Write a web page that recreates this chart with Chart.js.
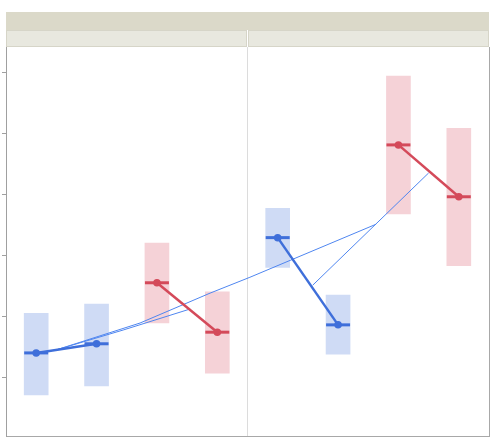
<!DOCTYPE html>
<html>
<head>
<meta charset="utf-8">
<script src="https://cdn.jsdelivr.net/npm/chart.js@4"></script>
<style>
  html, body { margin: 0; padding: 0; background: #fff; }
  #wrap { position: relative; width: 496px; height: 437px; }
  #chart { position: absolute; left: 0; top: 0; }
  .band { position: absolute; box-sizing: border-box; }
</style>
</head>
<body>
<div id="wrap">
  <canvas id="chart" width="496" height="437"></canvas>
  <div class="band" style="left:6px;top:12px;width:483px;height:18px;background:#dbd9c9;"></div>
  <div class="band" style="left:6px;top:30px;width:241px;height:17px;background:#e8e8df;border:1px solid #d6d5c8;"></div>
  <div class="band" style="left:248px;top:30px;width:241px;height:17px;background:#e8e8df;border:1px solid #d6d5c8;"></div>
</div>
<script>
// group positions (two panels, four groups each)
const groupX = [0.5, 1.5, 2.5, 3.5, 4.5, 5.5, 6.5, 7.5];
const groupColor = ['blue', 'blue', 'red', 'red', 'blue', 'blue', 'red', 'red'];
const means = [14.0, 15.5, 25.5, 17.4, 32.9, 18.6, 48.1, 39.6];
const lows  = [7.1, 8.6, 18.9, 10.7, 28.0, 13.8, 36.8, 28.3];
const highs = [20.5, 22.0, 32.0, 24.0, 37.7, 23.5, 59.4, 50.8];
const yTicks = [10, 20, 30, 40, 50, 60];

// thin trend lines
const trendA = [[0.85, 14.55], [2.22, 18.9], [3.38, 23.8], [4.04, 26.4], [6.13, 35.1]];
const trendB = [[0.85, 14.55], [1.94, 17.75], [3.05, 21.2]];
const trendC = [[5.08, 25.1], [7.0, 43.5]];

const BLUE = '#3f6fda', RED = '#d44a5a';
const BLUE_BOX = '#cfdbf5', RED_BOX = '#f5d2d7';
const col = c => c === 'blue' ? BLUE : RED;

const boxData = groupX.map((x, i) => ({ x: x, y: [lows[i], highs[i]] }));
const meanPts = groupX.map((x, i) => ({ x: x, y: means[i] }));
const pair = (a, b) => [meanPts[a], meanPts[b]];
const toPts = arr => arr.map(p => ({ x: p[0], y: p[1] }));

const thin = (pts) => ({
  type: 'line', data: toPts(pts), borderColor: '#4f86f0', borderWidth: 1,
  pointRadius: 0, fill: false, tension: 0, order: 1
});
const link = (a, b) => ({
  type: 'line', data: pair(a, b), borderColor: col(groupColor[a]),
  backgroundColor: col(groupColor[a]), borderWidth: 2.5,
  pointRadius: 2.5, pointHoverRadius: 2.5, fill: false, tension: 0, order: 0
});

const ctx = document.getElementById('chart').getContext('2d');
new Chart(ctx, {
  data: {
    datasets: [
      {
        type: 'bar', data: boxData, barThickness: 24, grouped: false,
        backgroundColor: groupColor.map(c => c === 'blue' ? BLUE_BOX : RED_BOX),
        borderWidth: 0, order: 3
      },
      {
        type: 'scatter', data: meanPts, pointStyle: 'line', pointRadius: 12,
        pointHoverRadius: 12, borderWidth: 3,
        borderColor: groupColor.map(col), order: 2
      },
      thin(trendA), thin(trendB), thin(trendC),
      link(0, 1), link(2, 3), link(4, 5), link(6, 7)
    ]
  },
  options: {
    responsive: false,
    animation: false,
    layout: { autoPadding: false, padding: { left: 2, right: 7, top: 47, bottom: 1 } },
    plugins: { legend: { display: false }, tooltip: { enabled: false } },
    scales: {
      x: {
        type: 'linear', min: 0, max: 8, offset: false,
        ticks: { display: false, stepSize: 4 },
        grid: {
          offset: false,
          drawTicks: false,
          color: c => c.tick && c.tick.value === 4 ? '#dcdcdc' : (c.tick && c.tick.value === 8 ? '#a8a8a8' : 'rgba(0,0,0,0)')
        },
        border: { color: '#a8a8a8', width: 1 }
      },
      y: {
        type: 'linear', min: 0.38, max: 64.15,
        afterBuildTicks: s => { s.ticks = yTicks.map(v => ({ value: v })); },
        afterFit: s => { s.width = 4; },
        ticks: { display: false },
        grid: { drawOnChartArea: false, tickLength: 4, color: '#a0a0a0' },
        border: { color: '#a0a0a0', width: 1 }
      }
    }
  }
});
</script>
</body>
</html>
